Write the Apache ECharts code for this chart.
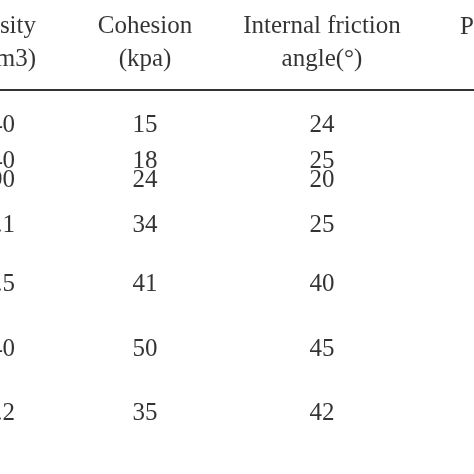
<!DOCTYPE html>
<html>
<head>
<meta charset="utf-8">
<script src="https://cdn.jsdelivr.net/npm/echarts@6/dist/echarts.min.js"></script>
<style>html,body{margin:0;padding:0;background:#fff}#c{width:474px;height:474px}</style>
</head>
<body>
<div id="c"></div>
<script>
// table contents
const headers = ["Density\n(kN/m3)", "Cohesion\n(kpa)", "Internal friction\nangle(°)", "Poisson's"];
const density = ["1.40", "1.40", "1.90", "2.1", "2.5", "2.40", "2.2"];
const cohesion = ["15", "18", "24", "34", "41", "50", "35"];
const friction = ["24", "25", "20", "25", "40", "45", "42"];

// layout in table units (x: column anchor, y: row centre)
const colX = [15, 145, 322, 460];
const rowY = [125, 161, 180, 225, 284, 349, 413];
const headerY = 43;

const chart = echarts.init(document.getElementById("c"));
const font = { fontFamily: "Liberation Serif", fontSize: 25, color: "#000", lineHeight: 33 };

function cells(col, values) {
  return values.map((v, i) => ({ value: [colX[col], rowY[i]], name: v }));
}

chart.setOption({
  animation: false,
  grid: { left: 0, right: 0, top: 0, bottom: 0 },
  xAxis: { type: "value", min: 0, max: 474, show: false },
  yAxis: { type: "value", min: 0, max: 474, inverse: true, show: false },
  series: [
    {
      type: "scatter", symbolSize: 0,
      data: [
        { value: [36, headerY], name: headers[0], label: { align: "right" } },
        { value: [colX[1], headerY], name: headers[1] },
        { value: [colX[2], headerY], name: headers[2] },
        { value: [colX[3], headerY - 16], name: headers[3], label: { align: "left" } },
      ],
      label: { show: true, position: "inside", formatter: p => p.name, align: "center", ...font },
      markLine: {
        symbol: "none", silent: true,
        lineStyle: { color: "#333", width: 2, type: "solid" },
        label: { show: false },
        data: [{ yAxis: 90 }],
      },
    },
    {
      type: "scatter", symbolSize: 0, data: cells(0, density),
      label: { show: true, position: "inside", formatter: p => p.name, align: "right", ...font },
    },
    {
      type: "scatter", symbolSize: 0, data: cells(1, cohesion),
      label: { show: true, position: "inside", formatter: p => p.name, ...font },
    },
    {
      type: "scatter", symbolSize: 0, data: cells(2, friction),
      label: { show: true, position: "inside", formatter: p => p.name, ...font },
    },
  ],
});
</script>
</body>
</html>
